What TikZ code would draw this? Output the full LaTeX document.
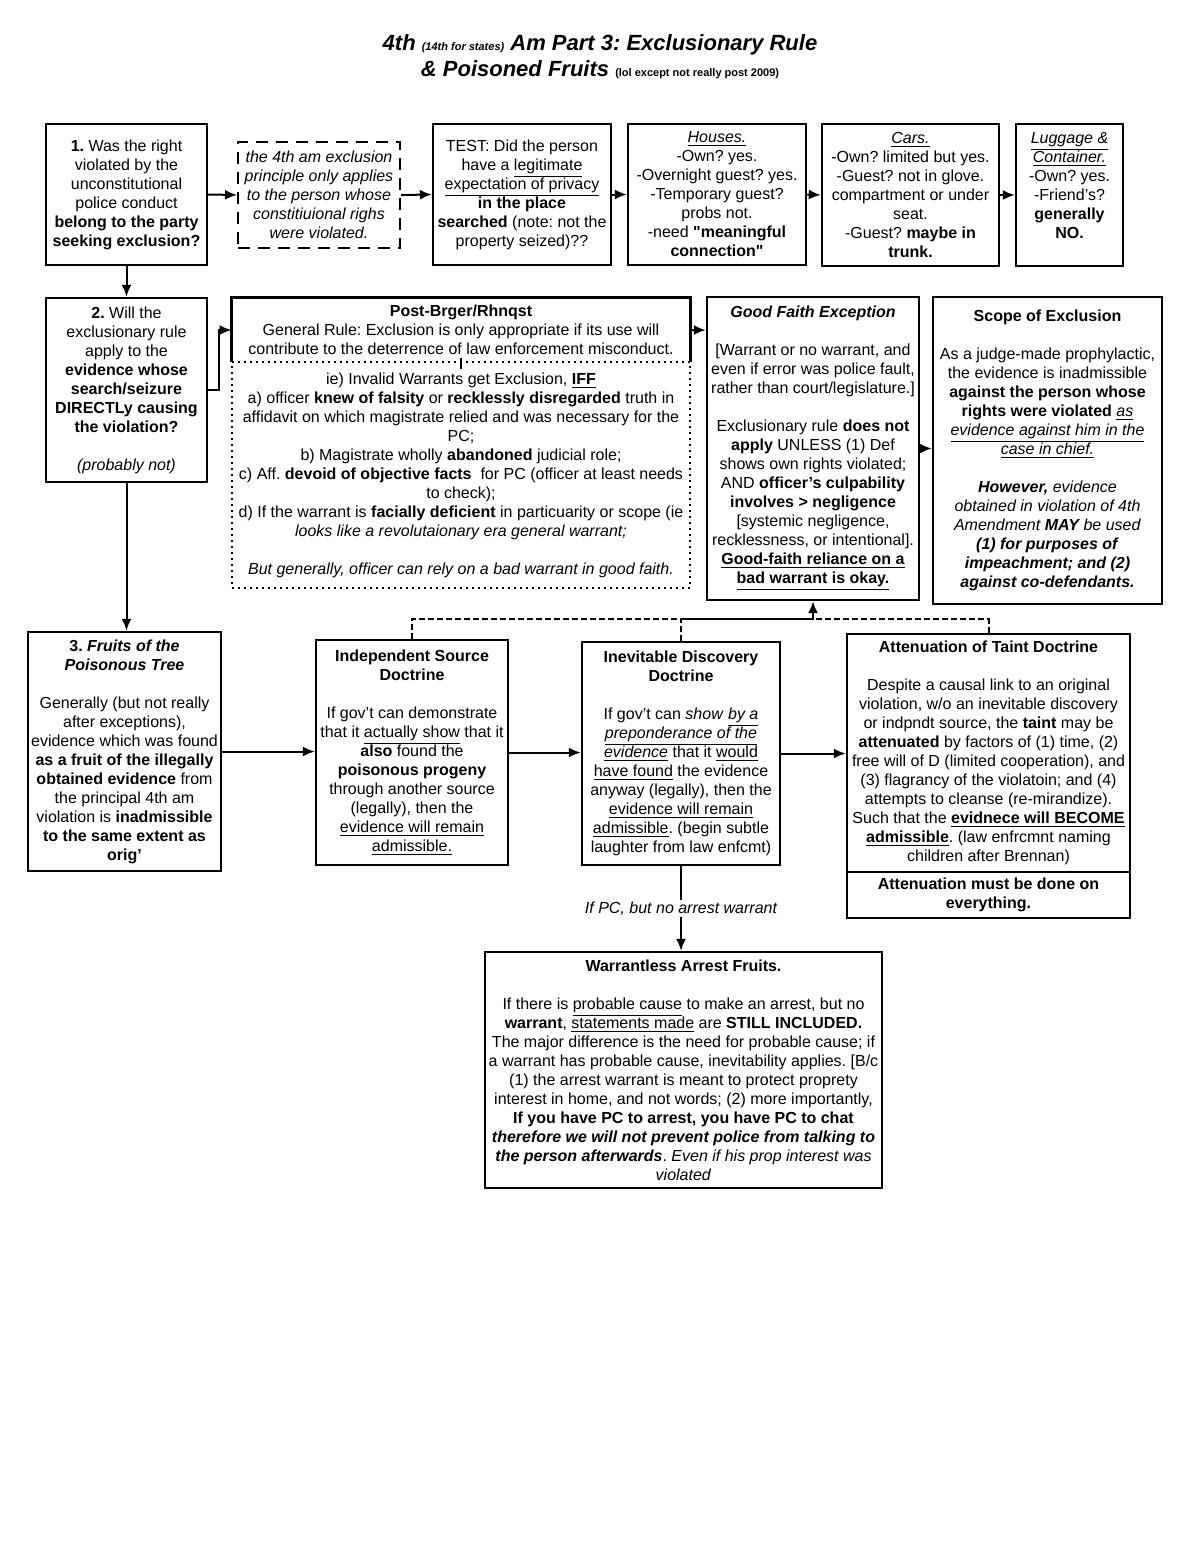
\documentclass[tikz,border=0pt]{standalone}
\usepackage{fontspec}
\setmainfont{Liberation Sans}
\usetikzlibrary{arrows.meta,calc}
\newcommand\myfs{\fontsize{8}{9.5}\selectfont}
\frenchspacing
\begin{document}
\begin{tikzpicture}[x=0.5pt,y=-0.5pt,
  box/.style={draw, line width=1.2pt, align=center, inner sep=1pt, font=\myfs},
  arr/.style={line width=1pt, -{Latex[length=6pt,width=5pt]}},
  dashconn/.style={line width=1pt, dash pattern=on 3pt off 1.5pt},
  lbl/.style={font=\myfs\itshape, fill=white, inner sep=1pt}]
\fill[white] (0,0) rectangle (1200,1553);
\useasboundingbox (0,0) rectangle (1200,1553);

% title
\node (t1) at (600,45) {\fontsize{11}{13}\selectfont\bfseries\itshape 4th {\fontsize{5.5}{7}\selectfont (14th for states)} Am Part 3: Exclusionary Rule};
\node (t2) at (600,70) {\fontsize{11}{13}\selectfont\bfseries\itshape \& Poisoned Fruits {\fontsize{5.5}{7}\selectfont\upshape (lol except not really post 2009)}};

% top row
\node[box, minimum width=80.5pt, minimum height=70.5pt] (b1) at (126.5,194.5)
 {\textbf{1.} Was the right\\ violated by the\\ unconstitutional\\ police conduct\\ \textbf{belong to the party}\\ \textbf{seeking exclusion?}};
\node[box, dash pattern=on 6pt off 4pt, line width=1pt, font=\myfs\itshape, minimum width=81pt, minimum height=53pt] (dsh) at (319,195)
 {the 4th am exclusion\\ principle only applies\\ to the person whose\\ constitiuional righs\\ were violated.};
\node[box, minimum width=89pt, minimum height=70.5pt] (test) at (522,194.5)
 {TEST: Did the person\\ have a \underline{legitimate}\\ \underline{expectation of privacy}\\ \textbf{in the place}\\ \textbf{searched} (note: not the\\ property seized)??};
\node[box, minimum width=89pt, minimum height=70.5pt] (houses) at (717,194.5)
 {\underline{\textit{Houses.}}\\ -Own? yes.\\ -Overnight guest? yes.\\ -Temporary guest?\\ probs not.\\ -need \textbf{\textquotedbl meaningful}\\ \textbf{connection\textquotedbl}};
\node[box, minimum width=88.5pt, minimum height=71pt] (cars) at (910.5,195)
 {\underline{\textit{Cars.}}\\ -Own? limited but yes.\\ -Guest? not in glove.\\ compartment or under\\ seat.\\ -Guest? \textbf{maybe in}\\ \textbf{trunk.}};
\node[box, minimum width=53.5pt, minimum height=71pt] (lug) at (1069.5,195)
 {\underline{\textit{Luggage \&}}\\ \underline{\textit{Container.}}\\ -Own? yes.\\ -Friend's?\\ \textbf{generally}\\ \textbf{NO.}\\ ~};

% second row
\node[box, minimum width=80.5pt, minimum height=92pt] (b2) at (126.5,390)
 {\textbf{2.} Will the\\ exclusionary rule\\ apply to the\\ \textbf{evidence whose}\\ \textbf{search/seizure}\\ \textbf{DIRECTLy causing}\\ \textbf{the violation?}\\[9.5pt] \textit{(probably not)}};
\node[align=center, inner sep=1pt, font=\myfs, minimum width=229pt, minimum height=32pt] (pbtop) at (461,330)
 {\textbf{Post-Brger/Rhnqst}\\ General Rule: Exclusion is only appropriate if its use will\\ contribute to the deterrence of law enforcement misconduct.};
\draw[line width=1.2pt] (pbtop.south west) -- (pbtop.north west) -- (pbtop.north east) -- (pbtop.south east);
\node[box, line width=1pt, dash pattern=on 1pt off 2pt, minimum width=229pt, minimum height=113pt] (pbbot) at (461,475)
 {ie) Invalid Warrants get Exclusion, \underline{\textbf{IFF}}\\
  a) officer \textbf{knew of falsity} or \textbf{recklessly disregarded} truth in\\
  affidavit on which magistrate relied and was necessary for the\\
  PC;\\
  b) Magistrate wholly \textbf{abandoned} judicial role;\\
  c) Aff. \textbf{devoid of objective facts}\ \ for PC (officer at least needs\\
  to check);\\
  d) If the warrant is \textbf{facially deficient} in particuarity or scope (ie\\
  \textit{looks like a revolutaionary era general warrant;}\\[9.5pt]
  \textit{But generally, officer can rely on a bad warrant in good faith.}};
\node[box, minimum width=106pt, minimum height=151.5pt] (gf) at (813,448.5)
 {\textbf{\textit{Good Faith Exception}}\\[9.5pt]
  {[}Warrant or no warrant, and\\ even if error was police fault,\\ rather than court/legislature.{]}\\[9.5pt]
  Exclusionary rule \textbf{does not}\\ \textbf{apply} UNLESS (1) Def\\ shows own rights violated;\\
  AND \textbf{officer's culpability}\\ \textbf{involves > negligence}\\ {[}systemic negligence,\\
  recklessness, or intentional{]}.\\ \underline{\textbf{Good-faith reliance on a}}\\ \underline{\textbf{bad warrant is okay.}}};
\node[box, minimum width=114.5pt, minimum height=153.5pt] (scope) at (1047.5,450.5)
 {\textbf{Scope of Exclusion}\\[9.5pt]
  As a judge-made prophylactic,\\ the evidence is inadmissible\\ \textbf{against the person whose}\\
  \textbf{rights were violated} \underline{\textit{as}}\\ \underline{\textit{evidence against him in the}}\\ \underline{\textit{case in chief.}}\\[9.5pt]
  \textit{\textbf{However,} evidence}\\ \textit{obtained in violation of 4th}\\ \textit{Amendment \textbf{MAY} be used}\\
  \textbf{\textit{(1) for purposes of}}\\ \textbf{\textit{impeachment; and (2)}}\\ \textbf{\textit{against co-defendants.}}};

% third row
\node[box, minimum width=96.5pt, minimum height=119.5pt] (b3) at (124.5,751.5)
 {\textbf{3. \textit{Fruits of the}}\\ \textbf{\textit{Poisonous Tree}}\\[9.5pt]
  Generally (but not really\\ after exceptions),\\ evidence which was found\\
  \textbf{as a fruit of the illegally}\\ \textbf{obtained evidence} from\\ the principal 4th am\\
  violation is \textbf{inadmissible}\\ \textbf{to the same extent as}\\ \textbf{orig'}};
\node[box, minimum width=96pt, minimum height=112.5pt] (ind) at (412,752.5)
 {\textbf{Independent Source}\\ \textbf{Doctrine}\\[9.5pt]
  If gov't can demonstrate\\ that it \underline{actually show} that it\\ \textbf{also} found the\\
  \textbf{poisonous progeny}\\ through another source\\ (legally), then the\\
  \underline{evidence will remain}\\ \underline{admissible.}};
\node[box, minimum width=99pt, minimum height=111.5pt] (inev) at (681,753.5)
 {\textbf{Inevitable Discovery}\\ \textbf{Doctrine}\\[9.5pt]
  If gov't can \textit{show} \underline{\textit{by a}}\\ \underline{\textit{preponderance of the}}\\
  \underline{\textit{evidence}} that it \underline{would}\\ \underline{have found} the evidence\\
  anyway (legally), then the\\ \underline{evidence will remain}\\
  \underline{admissible}. (begin subtle\\ laughter from law enfcmt)};
\node[box, minimum width=141.5pt, minimum height=119pt] (att) at (988.5,753)
 {\textbf{Attenuation of Taint Doctrine}\\[9.5pt]
  Despite a causal link to an original\\ violation, w/o an inevitable discovery\\
  or indpndt source, the \textbf{taint} may be\\ \textbf{attenuated} by factors of (1) time, (2)\\
  free will of D (limited cooperation), and\\ (3) flagrancy of the violatoin; and (4)\\
  attempts to cleanse (re-mirandize).\\ Such that the \underline{\textbf{evidnece will BECOME}}\\
  \underline{\textbf{admissible}}. (law enfrcmnt naming\\ children after Brennan)};
\node[box, minimum width=141.5pt, minimum height=23pt] (attb) at (988.5,895)
 {\textbf{Attenuation must be done on}\\ \textbf{everything.}};

% bottom
\node[box, minimum width=198.5pt, minimum height=118pt] (war) at (683.5,1070)
 {\textbf{Warrantless Arrest Fruits.}\\[9.5pt]
  If there is \underline{probable cause} to make an arrest, but no\\
  \textbf{warrant}, \underline{statements made} are \textbf{STILL INCLUDED.}\\
  The major difference is the need for probable cause; if\\
  a warrant has probable cause, inevitability applies. [B/c\\
  (1) the arrest warrant is meant to protect proprety\\
  interest in home, and not words; (2) more importantly,\\
  \textbf{If you have PC to arrest, you have PC to chat}\\
  \textbf{\textit{therefore we will not prevent police from talking to}}\\
  \textbf{\textit{the person afterwards}}. \textit{Even if his prop interest was}\\
  \textit{violated}};

% connectors
\draw[arr] (b1.east) -- (dsh.west);
\draw[arr] (dsh.east) -- (test.west);
\draw[arr] (test.east) -- (houses.west);
\draw[arr] (houses.east) -- (cars.west);
\draw[arr] (cars.east) -- (lug.west);
\draw[arr] (b1.south) -- (b2.north);
\draw[arr] (b2.east) -- ++(11,0) |- (pbtop.west);
\draw[line width=0.6pt] ([yshift=2pt]pbtop.south) -- ([yshift=-4pt]pbbot.north);
\draw[arr] (pbtop.east) -- (pbtop.east -| gf.west);
\draw[arr] (gf.east) -- (gf.east -| scope.west);
\draw[arr] (b2.south) -- (b2.south |- b3.north);
\draw[arr] (b3.east) -- (b3.east -| ind.west);
\draw[arr] (ind.east) -- (ind.east -| inev.west);
\draw[arr] (inev.east) -- (inev.east -| att.west);
\coordinate (j) at (813,619);
\draw[dashconn] (ind.north) |- (j);
\draw[dashconn] (inev.north) |- (j);
\draw[dashconn] (att.north) |- (j);
\draw[arr] (j) -- (gf.south);
\draw[arr] (inev.south) -- (inev.south |- war.north) node[lbl, midway] {If PC, but no arrest warrant};
\end{tikzpicture}
\end{document}
